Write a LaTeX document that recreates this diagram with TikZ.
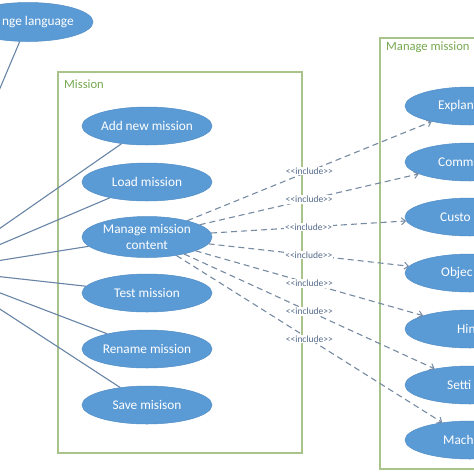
\documentclass[tikz,border=0pt]{standalone}
\usepackage{fontspec}
\setmainfont{Carlito}
\newfontfamily\incfont{Carlito}[Ligatures=TeXOff]
\usetikzlibrary{shapes.geometric,arrows.meta}
\definecolor{ucblue}{RGB}{91,155,213}
\definecolor{ucedge}{RGB}{80,140,198}
\definecolor{boxgreen}{RGB}{169,196,138}
\definecolor{labgreen}{RGB}{118,168,80}
\definecolor{assoc}{RGB}{104,132,166}
\definecolor{incl}{RGB}{118,138,162}
\definecolor{incltext}{RGB}{84,106,136}
\begin{document}
\begin{tikzpicture}[x=1pt,y=-1pt,
  uc/.style={ellipse, minimum width=130pt, minimum height=38pt, inner sep=0pt,
    fill=ucblue, draw=ucedge, line width=0.5pt, text=white,
    font=\fontsize{13.3}{16}\selectfont, align=center},
  uctext/.style={anchor=west, inner sep=0pt, text=white, font=\fontsize{13.3}{16}\selectfont},
  sysbox/.style={draw=boxgreen, line width=1.1pt},
  syslabel/.style={anchor=west, inner sep=0pt, text=labgreen, font=\fontsize{12.6}{15}\selectfont},
  assocline/.style={draw=assoc, line width=1.1pt},
  incline/.style={draw=incl, line width=1.1pt, dash pattern=on 6pt off 4pt,
    -{Straight Barb[length=4pt,width=7pt,line width=1pt]}},
  inclabel/.style={fill=white, inner sep=1pt, text=incltext, font=\incfont\fontsize{9.5}{11}\selectfont}]
\useasboundingbox (0,0) rectangle (474,474);
\clip (0,0) rectangle (474,474);

% system boundaries
\draw[sysbox] (58,72) rectangle (302,453);
\node[syslabel] (missionlbl) at (64,84) {Mission};
\draw[sysbox] (380,38) rectangle (520,469);
\node[syslabel] (managelbl) at (386,47) {Manage mission};

% actor position (off canvas)
\coordinate (actor) at (-60,270);
\coordinate (actorhead) at (-60,230);

% change language
\node[uc, minimum width=130pt, minimum height=39pt] (lang) at (28,22) {};
\node[uctext] (langtxt) at (2,22) {nge language};

% mission use cases
\node[uc] (add) at (147,126) {Add new mission};
\node[uc] (load) at (147,182) {Load mission};
\node[uc, minimum height=41pt] (mmc) at (147,237) {Manage mission\\content};
\node[uc] (test) at (147,293) {Test mission};
\node[uc] (rename) at (147,349) {Rename mission};
\node[uc] (save) at (147,405) {Save misison};

% manage mission use cases
\node[uc] (expl) at (470,106) {};
\node[uc] (comm) at (470,162) {};
\node[uc] (cust) at (470,217) {};
\node[uc] (obj) at (470,273) {};
\node[uc] (hint) at (470,329) {};
\node[uc] (sett) at (470,385) {};
\node[uc] (mach) at (470,440) {};
\node[uctext] (expltxt) at (438,106) {Explan};
\node[uctext] (commtxt) at (438,162) {Comm};
\node[uctext] (custtxt) at (440,217) {Custo};
\node[uctext] (objtxt) at (441,273) {Objec};
\node[uctext] (hinttxt) at (457,329) {Hin};
\node[uctext] (setttxt) at (447,385) {Setti};
\node[uctext] (machtxt) at (443,440) {Mach};

% associations
\draw[assocline] (actorhead) -- (lang);
\foreach \t in {add,load,mmc,test,rename,save}
  \draw[assocline] (actor) -- (\t);

% includes
\foreach \t in {expl,comm,cust,obj,hint,sett,mach}
  \draw[incline] (mmc) -- node[inclabel] {<<include>>} (\t);
\end{tikzpicture}
\end{document}
